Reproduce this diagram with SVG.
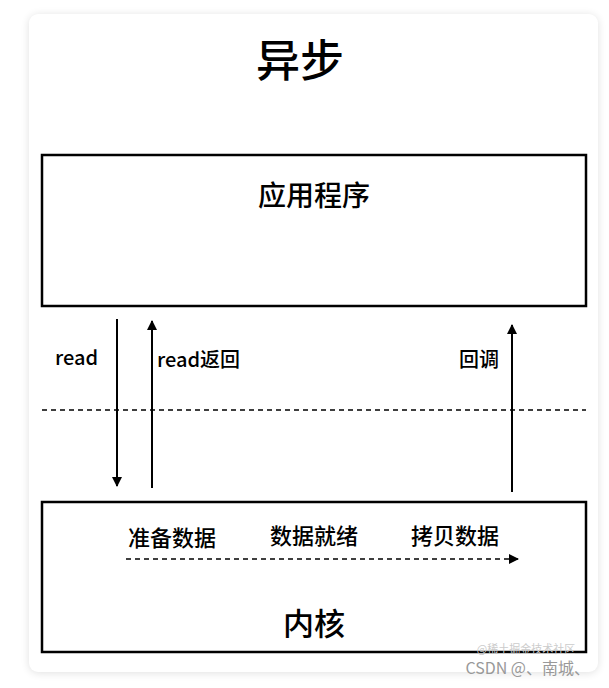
<svg xmlns="http://www.w3.org/2000/svg" width="609" height="688" viewBox="0 0 609 688">
<defs>
<filter id="sh" x="-5%" y="-5%" width="110%" height="110%"><feGaussianBlur stdDeviation="4"/></filter>
<marker id="ah" markerWidth="10" markerHeight="10" refX="9" refY="5" orient="auto" markerUnits="userSpaceOnUse"><path d="M0,0 L10,5 L0,10 z" fill="#000"/></marker>
<style>
.t{font-family:"Noto Sans CJK SC","Liberation Sans",sans-serif;fill:#000;font-weight:500}
.box{fill:#fff;stroke:#000;stroke-width:2.5}
.ln{stroke:#000;stroke-width:2;fill:none}
</style>
</defs>
<rect width="609" height="688" fill="#fff"/>
<rect x="29" y="15" width="569" height="658" rx="9" fill="#000" opacity="0.12" filter="url(#sh)"/>
<rect x="29" y="14" width="569" height="658" rx="9" fill="#fff"/>
<text class="t" x="300" y="77" font-size="44" font-weight="bold" text-anchor="middle">异步</text>
<g id="app"><rect class="box" x="42" y="155" width="544" height="151"/>
<text class="t" x="314" y="206" font-size="28" text-anchor="middle">应用程序</text></g>
<g id="kernel"><rect class="box" x="42" y="502" width="544" height="150"/>
<text class="t" x="314" y="635" font-size="31" text-anchor="middle">内核</text>
<text class="t" x="172" y="546" font-size="22" text-anchor="middle">准备数据</text>
<text class="t" x="314" y="544" font-size="22" text-anchor="middle">数据就绪</text>
<text class="t" x="455" y="544" font-size="22" text-anchor="middle">拷贝数据</text></g>
<g id="connectors">
<line class="ln" x1="117" y1="319" x2="117" y2="486" marker-end="url(#ah)"/>
<line class="ln" x1="152" y1="488" x2="152" y2="321" marker-end="url(#ah)"/>
<line class="ln" x1="512" y1="492" x2="512" y2="325" marker-end="url(#ah)"/>
<line x1="42" y1="410" x2="586" y2="410" stroke="#000" stroke-width="1.5" stroke-dasharray="5,4"/>
<line x1="126" y1="559" x2="518" y2="559" stroke="#000" stroke-width="1.5" stroke-dasharray="5,4" marker-end="url(#ah)"/>
<text class="t" x="55" y="365" font-size="20">read</text>
<text class="t" x="157" y="367" font-size="20">read返回</text>
<text class="t" x="459" y="367" font-size="20">回调</text>
</g>
<text x="526" y="653" font-size="11" fill="#ccc" font-family="Noto Sans CJK SC,sans-serif" text-anchor="middle">@稀土掘金技术社区</text>
<text x="590" y="674" font-size="16" fill="#999" font-family="Noto Sans CJK SC,sans-serif" text-anchor="end">CSDN @、南城、</text>
</svg>
